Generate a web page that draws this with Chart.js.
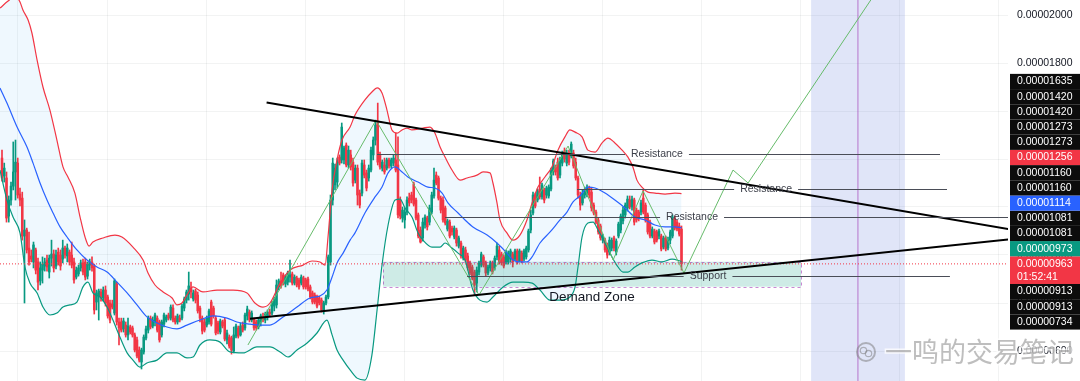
<!DOCTYPE html>
<html><head><meta charset="utf-8">
<script src="https://cdn.jsdelivr.net/npm/chart.js@4.4.1/dist/chart.umd.min.js"></script>
<style>html,body{margin:0;padding:0;background:#fff;overflow:hidden}canvas{display:block}</style>
</head><body>
<canvas id="c" width="1080" height="381"></canvas>
<script>
// prices in units of 0.00000001
const SCALE = 1e-8;
const openP = [
1404,1329,1321,1162,1229,1287,1346,1383,1254,1237,
1079,1104,1029,996,971,1021,971,892,937,954,
979,929,987,1004,954,1012,1000,983,1029,996,
1012,1000,971,908,921,946,967,971,912,958,
971,954,804,829,846,821,854,825,800,796,
758,879,721,721,692,708,667,700,696,667,
646,604,554,596,654,687,737,704,721,737,
721,667,712,729,750,737,779,737,721,737,
737,779,812,837,862,817,850,833,779,737,
721,708,721,804,779,737,717,679,721,729,
646,658,654,600,662,696,667,708,696,746,
762,729,733,721,700,721,742,729,746,762,
758,787,792,867,892,917,879,887,908,921,
883,904,896,883,904,896,900,867,842,833,
825,821,812,771,800,825,971,1229,1292,1304,
1408,1396,1396,1458,1375,1417,1387,1312,1362,1258,
1258,1375,1342,1321,1354,1417,1479,1550,1417,1362,
1375,1362,1396,1371,1383,1396,1375,1229,1154,1146,
1179,1237,1250,1296,1229,1167,1104,1071,1125,1154,
1137,1179,1246,1333,1321,1237,1229,1196,1108,1137,
1112,1075,1104,1037,1050,987,1021,996,967,950,
929,883,929,958,992,967,925,946,967,946,
992,1021,1004,992,971,971,983,1004,983,1017,
975,1008,983,992,1021,1104,1175,1250,1229,1275,
1242,1271,1250,1246,1275,1346,1367,1387,1333,1383,
1433,1383,1425,1412,1425,1387,1321,1246,1217,1250,
1258,1279,1262,1208,1179,1146,1121,1062,1062,1042,
1012,1029,1071,1012,1079,1104,1142,1167,1196,1229,
1200,1229,1187,1179,1179,1237,1208,1167,1137,1079,
1100,1096,1079,1079,1033,1071,1029,1062,1079,1154,
1137,1121,1108];
const highP = [
1437,1383,1346,1246,1304,1471,1479,1404,1279,1262,
1146,1112,1096,1021,1054,1029,987,971,992,987,
1000,1000,1062,1021,1021,1029,1021,1062,1037,1046,
1021,1054,987,950,958,979,983,987,971,983,
992,962,854,858,858,867,871,833,812,812,
900,887,737,737,737,721,737,708,704,675,
658,617,612,667,704,746,746,742,758,746,
729,729,758,750,758,792,792,746,754,750,
796,825,854,929,887,854,858,846,787,746,
733,746,775,812,787,746,725,733,729,737,
687,667,662,700,712,704,717,721,758,787,
771,767,737,729,737,754,758,762,771,775,
808,825,896,900,929,925,917,933,979,929,
917,912,904,917,912,904,908,875,850,842,
833,829,821,808,833,1000,1250,1404,1379,1404,
1417,1550,1454,1467,1454,1437,1404,1375,1375,1271,
1396,1396,1354,1375,1450,1492,1562,1633,1429,1396,
1404,1404,1404,1404,1417,1508,1492,1242,1200,1196,
1242,1258,1262,1304,1237,1175,1117,1154,1167,1162,
1208,1262,1362,1346,1329,1246,1242,1204,1150,1146,
1121,1121,1112,1079,1058,1037,1033,1008,975,958,
937,950,975,1012,1000,975,958,975,975,996,
1050,1037,1012,1000,1021,1017,1025,1012,1025,1025,
1025,1017,1025,1037,1108,1187,1262,1258,1275,1325,
1300,1279,1287,1292,1362,1400,1375,1404,1408,1433,
1446,1437,1437,1471,1437,1404,1329,1262,1271,1283,
1292,1287,1279,1217,1187,1154,1129,1087,1071,1050,
1075,1071,1079,1067,1137,1171,1200,1217,1246,1246,
1246,1237,1196,1187,1229,1271,1217,1175,1146,1117,
1108,1104,1108,1087,1079,1079,1075,1104,1167,1162,
1146,1133,1121];
const lowP = [
1308,1304,1137,1137,1208,1271,1229,1237,1204,1062,
800,1008,958,971,946,921,854,875,883,933,
933,904,954,929,942,958,937,967,987,971,
958,946,883,900,912,933,917,896,900,937,
933,754,771,729,808,808,787,737,717,775,
750,708,625,679,679,658,646,671,658,596,
571,554,525,587,646,675,692,696,704,679,
637,658,700,721,729,729,721,712,712,721,
729,767,800,812,821,808,800,758,721,671,
679,700,712,704,737,667,671,671,696,642,
629,612,587,592,654,654,662,679,687,729,
721,721,687,687,692,704,721,717,729,746,
750,767,779,854,862,875,867,875,887,875,
875,867,858,875,858,858,850,817,796,796,
779,792,762,754,792,817,958,1208,1271,1279,
1375,1383,1379,1367,1362,1354,1287,1300,1208,1196,
1246,1321,1267,1308,1346,1396,1458,1375,1358,1350,
1337,1354,1362,1362,1371,1346,1154,1150,1137,1112,
1167,1204,1217,1204,1146,1071,1050,1058,1112,1104,
1125,1171,1237,1292,1229,1175,1137,1125,1100,1071,
1083,1067,1037,1029,987,979,971,937,917,896,
833,846,917,950,950,912,917,933,921,937,
979,962,958,946,962,962,971,950,975,962,
971,967,975,983,1012,1092,1167,1196,1221,1233,
1233,1217,1237,1237,1267,1333,1333,1312,1321,1371,
1387,1371,1375,1404,1362,1312,1237,1187,1208,1237,
1242,1237,1183,1167,1129,1087,1062,1050,1012,987,
1000,1017,1017,1000,1071,1092,1129,1154,1183,1192,
1187,1125,1137,1142,1167,1171,1137,1087,1071,1071,
1046,1054,1067,1017,1025,1017,1021,1046,1071,1104,
1100,1079,937];
const closeP = [
1321,1362,1154,1229,1287,1346,1387,1250,1229,1079,
1104,1021,971,983,1042,937,887,946,962,971,
950,987,1004,946,1000,971,954,1029,1000,1029,
971,958,896,937,946,967,929,908,962,971,
946,771,842,850,821,854,800,746,729,783,
892,721,696,687,725,667,704,679,667,604,
579,562,604,658,692,737,700,729,750,687,
646,721,750,742,737,783,729,721,746,729,
787,817,846,871,846,842,812,767,737,683,
687,737,767,712,746,675,683,725,704,650,
675,621,604,667,704,662,704,687,750,775,
729,758,696,696,729,746,729,754,762,754,
800,817,875,892,871,883,908,925,917,883,
908,875,867,908,867,867,858,825,804,804,
787,800,771,800,825,992,1229,1383,1362,1387,
1383,1533,1446,1375,1437,1367,1300,1362,1250,1208,
1383,1333,1279,1362,1437,1479,1542,1387,1367,1387,
1346,1396,1371,1396,1404,1354,1167,1162,1187,1179,
1229,1217,1229,1212,1154,1079,1054,1137,1158,1117,
1196,1250,1312,1300,1237,1187,1146,1133,1142,1079,
1096,1112,1050,1071,996,1029,979,946,925,904,
875,937,967,1004,958,925,950,967,929,987,
1037,971,967,954,1012,1008,1017,971,1017,971,
1017,975,1017,1029,1100,1167,1250,1204,1267,1242,
1292,1229,1279,1283,1354,1392,1346,1321,1396,1421,
1400,1425,1387,1462,1371,1321,1250,1208,1258,1271,
1279,1250,1196,1175,1137,1096,1071,1079,1021,1000,
1062,1062,1029,1058,1129,1162,1187,1208,1233,1200,
1233,1137,1146,1154,1217,1179,1146,1096,1079,1108,
1054,1062,1100,1025,1071,1025,1062,1096,1158,1112,
1108,1087,963];

// Bollinger bands [bar index, price]
const bbUpper = [[-0.9,2029],[2.7,2058],[5.8,2079],[8,2054],[9.3,2021],[11.6,1979],[13.3,1925],[15.6,1812],[18.2,1700],[21.3,1604],[24.4,1479],[27.1,1367],[29.3,1325],[32.4,1258],[34.7,1158],[36.9,1075],[38.7,1037],[40.4,1054],[44.9,1071],[50.2,1083],[53.3,1075],[58.2,1033],[62.7,979],[64.9,925],[68,875],[71.6,846],[75.6,821],[77.8,792],[80,800],[82.2,833],[84.9,867],[89.3,846],[95.6,854],[102.7,854],[108.9,842],[112.4,800],[116,783],[119.1,800],[123.6,883],[128,937],[133.8,958],[137.8,975],[141.3,971],[143.6,958],[144.9,1075],[146.7,1271],[148.9,1396],[151.1,1479],[154.7,1533],[156.9,1583],[161.3,1646],[164.4,1679],[166.7,1696],[168.9,1675],[171.1,1604],[173.3,1521],[175.6,1508],[177.8,1521],[180,1529],[182.2,1521],[187.1,1529],[190.2,1533],[192.4,1508],[194.7,1450],[196.9,1408],[200,1354],[203.6,1312],[206.7,1321],[211.1,1333],[213.8,1346],[216.9,1342],[218.2,1300],[220,1217],[221.3,1146],[224.4,1092],[227.1,1062],[230.2,1083],[233.3,1146],[235.6,1217],[238.2,1283],[241.3,1325],[244.4,1367],[247.1,1437],[250.2,1492],[252.4,1521],[254.7,1512],[257.8,1492],[260.4,1437],[263.6,1429],[266.7,1467],[269.3,1487],[272.4,1467],[275.6,1437],[278.2,1408],[280.4,1367],[282.2,1312],[284.4,1283],[287.1,1262],[290.2,1258],[294.7,1254],[299.1,1258],[302,1256]];
const bbBasis = [[-0.9,1696],[2.2,1633],[6.7,1533],[11.1,1450],[13.8,1383],[16.9,1300],[20,1229],[22.7,1175],[25.8,1117],[28.9,1075],[33.3,1021],[37.8,979],[42.2,950],[46.7,929],[51.1,887],[55.6,842],[60,792],[64.4,742],[68.9,717],[73.3,700],[77.8,692],[82.2,708],[88,729],[93.8,746],[100,737],[104.4,721],[110.2,712],[114.7,708],[119.1,708],[124.9,742],[131.1,783],[136.9,821],[141.3,829],[144.4,854],[146.7,908],[148.9,967],[151.6,1008],[154.7,1062],[156.9,1092],[161.3,1175],[165.8,1242],[168.9,1283],[171.6,1342],[174.7,1367],[177.8,1346],[180.4,1325],[184.9,1304],[189.3,1283],[192.4,1279],[195.6,1258],[198.2,1217],[202.7,1175],[205.8,1146],[209.3,1117],[215.6,1083],[220,1050],[224.4,1008],[227.1,979],[230.2,971],[233.3,971],[235.6,992],[239.1,1050],[243.6,1096],[248,1146],[251.1,1179],[253.8,1221],[256.9,1246],[260.4,1283],[263.6,1279],[268,1258],[272.4,1229],[276.9,1196],[281.3,1158],[285.8,1146],[290.2,1125],[294.7,1117],[299.1,1117],[302,1114]];
const bbLower = [[-0.9,1354],[2.2,1229],[4.9,1158],[8,1092],[10.2,950],[12.4,883],[15.6,842],[18.2,783],[21.3,750],[24.4,758],[27.1,783],[30.2,792],[33.3,804],[36,867],[38.2,887],[40.4,842],[43.6,825],[46.7,783],[49.3,729],[52.4,658],[55.6,592],[58.2,562],[61.3,533],[64.4,550],[68.9,562],[73.3,592],[77.8,592],[82.2,571],[84.9,575],[88,625],[92.4,646],[96.9,637],[101.3,596],[107.1,592],[113.3,617],[119.1,617],[123.6,596],[127.1,575],[131.1,604],[135.6,633],[140,675],[144.4,729],[146.7,667],[148.9,604],[151.6,562],[154.7,521],[157.8,487],[161.3,479],[164.4,583],[166.7,771],[168.9,958],[171.6,1125],[174.7,1229],[176.9,1233],[179.1,1196],[182.2,1158],[184.9,1092],[187.1,1062],[191.1,1033],[194.7,1033],[196.9,1050],[200,1029],[202.7,1008],[205.8,979],[209.3,854],[212.4,812],[215.6,804],[218.2,825],[222.7,867],[227.1,887],[231.6,887],[235.6,883],[239.1,854],[243.6,812],[248,812],[252.4,825],[254.7,867],[256,950],[257.8,1075],[260.4,1133],[262.7,1137],[264.9,1104],[268,1050],[271.1,992],[273.8,950],[276,929],[278.2,929],[281.3,950],[284.4,967],[288.9,979],[293.3,971],[297.8,983],[302,973]];

// drawings [bar index, price]
const trendUpper = [[117.6,1635],[464,1081]];
const trendLower = [[110.2,734],[464,1081]];
const pathPoints = [[109.3,625],[166.2,1562],[212,833],[251.6,1454],[271.6,979],[284.9,1267],[303.1,925],[324.9,1354],[331.6,1300],[400.4,2262]];
const levelValues = [1420, 1273, 1160, 913];
const levelStart = [166.7, 255.6, 196.9, 206.7];
const levelEnd = [416.9, 420.0, 448.0, 421.3];
const levelText = ['Resistance', 'Resistance', 'Resistance', 'Support'];
const levelTextAt = [291.1, 339.6, 306.7, 313.8];
const zoneRange = [169.3, 355.1];
const zonePrices = [868, 972];
const zoneText = 'Demand Zone';
const zoneTextPos = [262.2, 825];
const timeBand = [359.6, 401.3];
const timeMarker = 380.4;
const lastPrice = 963;
const lastTimer = '01:52:41';
const axisLabelValues = [1635, 1420, 1420, 1273, 1273, 1256, 1160, 1160, 1114, 1081, 1081, 973, 913, 913, 734];
const axisLabelKinds = ['line','line','line','line','line','upper','line','line','basis','line','line','lower','line','line','line'];
const yTickValues = [600, 800, 1000, 1200, 1400, 1600, 1800, 2000];
const xGridTicks = [7, 47, 91, 135, 179, 223, 267, 311, 355, 399, 443];
const watermark = '一鸣的交易笔记';

const X_MIN = -0.889, X_MAX = 447.111, Y_MIN = 475, Y_MAX = 2062.5;
const UP = '#089981', DOWN = '#f23645';
const KIND_COLOR = {line: '#0c0c0c', upper: '#f23645', basis: '#2962ff', lower: '#089981'};
const GRID = 'rgba(42,46,57,0.06)';
const LABEL_FONT = '10.5px "Liberation Sans", Arial, sans-serif';

const pts = a => a.map(p => ({x: p[0], y: p[1]}));
const candleColor = c => closeP[c.dataIndex] >= openP[c.dataIndex] ? UP : DOWN;
const bodyData = closeP.map((c, i) => ({x: i, y: [openP[i], c]}));
const wickData = closeP.map((c, i) => ({x: i, y: [lowP[i], highP[i]]}));
const fmt = v => (v * SCALE).toFixed(8);

const overlay = {
  id: 'overlay',
  beforeDatasetsDraw(chart) {
    const {ctx, chartArea: a, scales: {x}} = chart;
    ctx.save();
    ctx.beginPath(); ctx.rect(a.left, a.top, a.width, a.height); ctx.clip();
    const b0 = x.getPixelForValue(timeBand[0]), b1 = x.getPixelForValue(timeBand[1]);
    ctx.fillStyle = 'rgba(70,100,215,0.17)';
    ctx.fillRect(b0, a.top, b1 - b0, a.height);
    const xm = x.getPixelForValue(timeMarker);
    ctx.strokeStyle = 'rgba(156,39,176,0.4)'; ctx.lineWidth = 1.5;
    ctx.beginPath(); ctx.moveTo(xm, a.top); ctx.lineTo(xm, a.bottom); ctx.stroke();
    ctx.restore();
  },
  afterDatasetDraw(chart, args) {
    if (args.meta.label !== 'Bodies') return;
    const {ctx, chartArea: a, scales: {x, y}} = chart;
    ctx.save();
    ctx.beginPath(); ctx.rect(a.left, a.top, a.width, a.height); ctx.clip();
    const x0 = x.getPixelForValue(zoneRange[0]), x1 = x.getPixelForValue(zoneRange[1]);
    const yt = y.getPixelForValue(zonePrices[1]), yb = y.getPixelForValue(zonePrices[0]);
    ctx.fillStyle = 'rgba(8,153,129,0.2)';
    ctx.fillRect(x0, yt, x1 - x0, yb - yt);
    ctx.setLineDash([3, 3]);
    ctx.strokeStyle = 'rgba(156,39,176,0.55)'; ctx.lineWidth = 1;
    ctx.strokeRect(Math.round(x0) + 0.5, Math.round(yt) + 0.5, Math.round(x1 - x0), Math.round(yb - yt));
    ctx.restore();
  },
  afterDatasetsDraw(chart) {
    const {ctx, chartArea: a, scales: {x, y}} = chart;
    ctx.save();
    ctx.beginPath(); ctx.rect(a.left, a.top, a.width, a.height); ctx.clip();
    ctx.font = LABEL_FONT;
    ctx.textAlign = 'center'; ctx.textBaseline = 'middle';
    levelValues.forEach((v, k) => {
      const py = Math.round(y.getPixelForValue(v)) + 0.5;
      const xs = x.getPixelForValue(levelStart[k]), xe = x.getPixelForValue(levelEnd[k]);
      const xt = x.getPixelForValue(levelTextAt[k]);
      const w = ctx.measureText(levelText[k]).width / 2 + 6;
      ctx.strokeStyle = '#4a4d57'; ctx.lineWidth = 1;
      ctx.beginPath();
      ctx.moveTo(xs, py); ctx.lineTo(xt - w, py);
      ctx.moveTo(xt + w, py); ctx.lineTo(xe, py);
      ctx.stroke();
      ctx.fillStyle = '#3b3e48';
      ctx.fillText(levelText[k], xt, py);
    });
    ctx.font = '13.5px "Liberation Sans", Arial, sans-serif';
    ctx.fillStyle = '#131722';
    ctx.fillText(zoneText, x.getPixelForValue(zoneTextPos[0]), y.getPixelForValue(zoneTextPos[1]));
    ctx.restore();
  },
  afterDraw(chart) {
    const {ctx, scales: {y}} = chart;
    const h = 15.2, bx = y.left + 2, bw = chart.width - bx, tx = y.left + 9;
    ctx.save();
    ctx.font = LABEL_FONT; ctx.textAlign = 'left'; ctx.textBaseline = 'middle';
    const curY = y.getPixelForValue(lastPrice);
    const curTop = curY - h / 2, curH = 27.7;
    ctx.fillStyle = '#f23645';
    ctx.fillRect(bx, curTop, bw, curH);
    ctx.fillStyle = '#fff';
    ctx.fillText(fmt(lastPrice), tx, curY);
    ctx.fillText(lastTimer, tx, curTop + 21);
    const items = axisLabelValues.map((v, k) => ({v, kind: axisLabelKinds[k], ty: y.getPixelForValue(v)}));
    const above = items.filter(o => o.v > lastPrice).sort((p, q) => p.v - q.v);
    const below = items.filter(o => o.v <= lastPrice).sort((p, q) => q.v - p.v);
    let edge = curTop;
    above.forEach(o => { o.cy = Math.min(o.ty, edge - h / 2); edge = o.cy - h / 2; });
    edge = curTop + curH;
    below.forEach(o => { o.cy = Math.max(o.ty, edge + h / 2); edge = o.cy + h / 2; });
    above.concat(below).forEach(o => {
      ctx.fillStyle = KIND_COLOR[o.kind];
      ctx.fillRect(bx, o.cy - h / 2, bw, h);
      ctx.fillStyle = '#fff';
      ctx.fillText(fmt(o.v), tx, o.cy);
    });
    // watermark
    const wx = chart.width - 214, wy = chart.height - 29;
    ctx.strokeStyle = 'rgba(120,120,120,0.5)'; ctx.lineWidth = 2;
    ctx.beginPath(); ctx.arc(wx, wy, 9, 0, Math.PI * 2); ctx.stroke();
    ctx.lineWidth = 1.2;
    ctx.beginPath(); ctx.arc(wx - 2.5, wy - 1.5, 3.2, 0, Math.PI * 2); ctx.stroke();
    ctx.beginPath(); ctx.arc(wx + 2.5, wy + 1.5, 3.2, 0, Math.PI * 2); ctx.stroke();
    ctx.font = '27px "Noto Sans CJK SC", sans-serif';
    ctx.lineWidth = 3; ctx.strokeStyle = 'rgba(255,255,255,0.75)';
    ctx.strokeText(watermark, wx + 19, wy);
    ctx.fillStyle = 'rgba(125,125,125,0.5)';
    ctx.fillText(watermark, wx + 19, wy);
    ctx.restore();
  }
};

const lineDs = (label, data, color, width, order, extra) => Object.assign({
  type: 'line', label, data: pts(data), borderColor: color, borderWidth: width,
  pointRadius: 0, fill: false, order, tension: 0
}, extra || {});

new Chart(document.getElementById('c'), {
  type: 'bar',
  data: {
    datasets: [
      lineDs('BBFill', bbUpper, 'rgba(0,0,0,0)', 0, 30, {fill: 1, backgroundColor: 'rgba(33,150,243,0.07)', cubicInterpolationMode: 'monotone'}),
      lineDs('Lower', bbLower, '#089981', 1.2, 15, {cubicInterpolationMode: 'monotone'}),
      lineDs('Upper', bbUpper, '#f23645', 1.2, 15, {cubicInterpolationMode: 'monotone'}),
      lineDs('Basis', bbBasis, '#2962ff', 1.2, 15, {cubicInterpolationMode: 'monotone'}),
      {type: 'bar', label: 'Wicks', data: wickData, barThickness: 1, backgroundColor: candleColor, grouped: false, order: 20, borderWidth: 0},
      {type: 'bar', label: 'Bodies', data: bodyData, barThickness: 1.9, backgroundColor: candleColor, grouped: false, minBarLength: 1, order: 19, borderWidth: 0},
      lineDs('Last', [[X_MIN, lastPrice], [X_MAX, lastPrice]], '#f23645', 1, 12, {borderDash: [1, 2]}),
      lineDs('Path', pathPoints, '#66bb6a', 1, 11, {clip: 0}),
      lineDs('TrendUpper', trendUpper, '#000000', 2, 10, {clip: 0}),
      lineDs('TrendLower', trendLower, '#000000', 2, 10, {clip: 0})
    ]
  },
  options: {
    responsive: false, animation: false, events: [],
    layout: {padding: 0},
    plugins: {legend: {display: false}, tooltip: {enabled: false}},
    scales: {
      x: {
        type: 'linear', min: X_MIN, max: X_MAX, offset: false,
        grid: {color: GRID, drawTicks: false, offset: false}, border: {display: false},
        ticks: {display: false},
        afterBuildTicks: s => { s.ticks = xGridTicks.map(v => ({value: v})); },
        afterFit: s => { s.height = 0; s.paddingLeft = 0; s.paddingRight = 0; }
      },
      y: {
        type: 'linear', position: 'right', min: Y_MIN, max: Y_MAX,
        grid: {color: GRID, drawTicks: false}, border: {display: false},
        ticks: {padding: 9, color: '#131722', font: {family: '"Liberation Sans", Arial, sans-serif', size: 10.5}, callback: v => fmt(v)},
        afterBuildTicks: s => { s.ticks = yTickValues.map(v => ({value: v})); },
        afterFit: s => { s.width = 72; s.paddingTop = 0; s.paddingBottom = 0; }
      }
    }
  },
  plugins: [overlay]
});
</script>
</body></html>
